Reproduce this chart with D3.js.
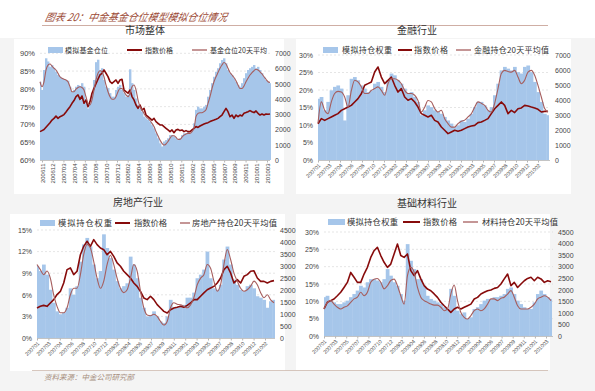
<!DOCTYPE html>
<html><head><meta charset="utf-8">
<script src="https://cdn.jsdelivr.net/npm/d3@7"></script>
<style>body{margin:0;background:#f4f4f4;}svg{display:block;}</style>
</head><body><svg id="c" width="595" height="391"></svg>
<script>
// ---------- DATA ----------
// Panel 1: 市场整体
const p1Bars = [82,79.7,85.3,88.6,87.7,86.2,86.7,85.8,84.8,83.9,83.4,83,82.7,82.5,82.3,80.6,79.2,79.7,80.6,81.1,80.8,81.6,80.6,76.9,74.5,75.9,78.8,82.5,87.5,88.2,85.3,85.8,82.5,80.6,80.2,78.8,77.8,77.8,79.7,80.6,81.1,79.7,78.8,77.8,78.3,85.5,81.6,79.7,77.3,75.5,74.5,73.6,72.2,71.7,71.3,70.8,69.8,68.9,67.5,66.1,64.7,63.8,65.2,65.6,66.1,67,67,66.6,66.1,65.6,66.1,67,67.5,67.5,68,67.5,68.4,70.3,74.1,75,74.5,74.5,75,75.5,77.8,79.7,81.6,83.4,84.8,85.8,87.2,88.1,88.6,87.2,85.3,84.4,83.9,83,82,81.1,80.6,81.6,83,84.4,85.3,85.8,86.2,86.7,85.8,86.2,85.3,84.4,83.4,82.5,82,81.6];
const p1Index = [1860,1930,2000,2150,2300,2450,2620,2730,2880,2730,2840,2900,2980,3150,3330,3500,3720,3900,4160,4270,3980,4200,3720,3940,3500,3830,4380,4700,5000,5300,5580,5690,5910,5690,5470,5140,5030,5140,5250,5030,5250,5300,4590,4480,4380,4590,4160,3940,3610,3390,3610,3280,3390,2950,2840,2730,2620,2730,2520,2410,2300,2300,2190,2080,1970,1860,1970,1790,1970,2010,1930,1970,1860,1930,1860,1860,1970,2080,2190,2140,2230,2300,2360,2410,2450,2520,2580,2620,2670,2730,2840,2950,3170,3390,3170,2840,2950,2730,2950,2840,2950,2890,3060,3110,3170,3240,3170,3110,3220,3060,2950,3020,2950,3020,3000,3020];
const p1MA = [82,80.6,82,85.3,86.7,87,86.4,85.8,85.3,84.4,83.4,83,82.7,82.5,82,80.6,79.2,79.2,79.9,80.4,80.6,80.4,79.7,77.8,75.9,75.5,76.9,79.7,82.5,84.4,85.1,84.8,83.4,81.1,79.2,77.8,77.1,77.1,77.8,79.2,80.1,80.1,79.2,78.3,77.8,78.8,80.6,81.1,79.7,76.9,75,74.1,73.1,72.2,71.7,71.1,70.3,69.4,68,66.8,65.6,64.7,64.2,64.5,65.2,66.1,66.8,66.8,66.4,65.8,65.8,66.4,67,67.3,67.5,67.5,68,68.9,72.2,73.1,73.3,73.3,73.6,74.1,75.9,77.8,80.1,82,83.4,84.6,85.8,86.7,87.4,87,85.8,84.6,83.9,83.2,82.3,81.1,80.1,80.1,80.8,82,83,83.9,84.6,85.1,85.5,85.3,84.8,84.2,83.4,82.7,82,81.8];
const p1Ticks = ['200611','200612','200703','200704','200706','200708','200710','200712','200802','200804','200806','200808','200810','200811','200902','200903','200905','200907','200909','200911','201001','201003'];
const p1LeftTicks = [60,65,70,75,80,85,90];
const p1RightTicks = [0,1000,2000,3000,4000,5000,6000,7000];
const p1Legend = ['模拟基金仓位','指数价格','基金仓位20天平均'];

// Panel 2: 金融行业
const p2Bars = [17.5,18,14.2,16.6,19.9,20.9,21.3,20.4,11.3,18.5,23.2,23.7,22.8,21.3,20.4,19.4,19.9,21.8,22.3,20.9,19.4,22.8,24.7,24.2,22.8,21.8,20.4,19,19.4,18,16.6,12.8,14.2,15.6,15.1,14.2,13.7,13.2,12.3,11.3,10.4,9.4,9.9,11.3,10.9,11.8,13.2,15.1,16.6,16.6,15.6,14.2,15.1,18.5,21.8,25.6,26.6,26.1,25.6,26.6,25.1,24.7,26.6,27,25.1,22.3,19.4,16.6,13.2,12.8];
const p2Index = [2420,2760,2640,2760,2870,2980,3090,3310,3420,3530,3640,3870,4090,4420,4980,5090,5200,5870,6200,5530,5090,5310,5530,4980,4530,4760,4200,3980,4090,3870,3530,3090,2980,2870,2980,2640,2530,2200,1980,1760,1870,1980,1910,1980,2090,2200,2270,2310,2490,2530,2640,2760,3090,3420,3640,3870,3640,3090,3310,3160,3420,3470,3640,3600,3530,3470,3380,3200,3240,3240];
const p2MA = [10.5,16.6,14.2,13.2,16.6,19,19.6,19.4,18,15.1,19.8,22.8,22.3,20.9,19,19,19.9,20.4,20.9,19.9,18.5,21.8,23.2,23.2,22.8,21.8,19.9,19,19,18.5,17,13.7,15.1,17,16.6,14.7,13.7,14.2,11.8,10.4,9.4,9.4,10.4,11.1,11.4,12.3,13.2,15.1,16.6,16.2,15.6,14.2,13.7,16.2,20.4,24.7,25.6,25.3,25.1,25.6,23.7,21.8,22.8,25.1,25.6,24.2,21.3,18,14.7,13.7];
const p2Ticks = ['200701','200703','200704','200706','200708','200710','200712','200802','200804','200806','200807','200809','200811','200901','200903','200905','200907','200908','200910','200912','201002'];
const p2LeftTicks = [0,5,10,15,20,25,30];
const p2RightTicks = [0,1000,2000,3000,4000,5000,6000,7000];
const p2Legend = ['模拟持仓权重','指数价格','金融持仓20天平均值'];

// Panel 3: 房地产行业
const p3Bars = [10,9.3,10.2,8.8,6.7,4.9,3.7,3.3,3.5,4.2,6.9,6,7.2,10.6,13,13.9,12.7,10.2,8.3,9.3,14.4,12.5,11.1,9.5,7.9,6.9,7.2,7.6,11.3,10.2,8.3,5.6,4.2,3,3.2,3.7,3,2.3,2.1,3,5.3,4.2,4.2,4.4,4.6,5.6,5.6,6.3,8.3,8.8,9.5,12,8.3,6.9,6.7,7.4,10.9,12.7,10.2,8.1,7.4,6.7,6.5,7.2,7.4,6.9,5.8,5.6,5.3,4.2,5.1,5.3];
const p3Index = [1250,1320,1360,1320,1460,1600,1810,1940,2290,2850,2920,2640,2780,3470,3820,4030,3820,4100,3890,3750,3680,3470,3610,3400,3130,2990,2780,2640,2500,2290,2150,1940,1670,1600,1740,1600,1390,1250,1110,1040,1180,1250,1280,1320,1280,1360,1460,1600,1600,1740,1880,2010,2080,2150,2290,2500,2850,2990,2710,2290,2430,2290,2570,2640,2780,2800,2500,2360,2360,2290,2360,2390];
const p3MA = [10.2,9.5,8.8,9.3,8.3,6,4.4,3.5,3.5,4.2,6,6.9,6.9,8.8,11.6,13,12.5,10.6,8.3,6.9,7.9,10.2,11.5,10.2,8.3,6.9,6.3,6.7,8.3,10.2,9.3,6.5,4.2,3.2,3.1,3.3,3,2.3,1.8,2.3,4.2,4.9,4.7,4.6,4.4,4.2,4.6,5.6,7.4,8.3,8.8,10.2,9.7,7.9,6.5,7.4,10.2,12.3,10.9,9,7.9,6.9,6.5,6.7,7.2,7.9,7.4,6.3,5.6,6,5.3,4.9];
const p3Ticks = ['200701','200703','200704','200706','200708','200710','200712','200802','200804','200806','200807','200809','200811','200901','200903','200905','200907','200908','200910','200912','201002'];
const p3LeftTicks = [0,3,6,9,12,15];
const p3RightTicks = [0,500,1000,1500,2000,2500,3000,3500,4000,4500];
const p3Legend = ['模拟持仓权重','指数价格','房地产持仓20天平均值'];

// Panel 4: 基础材料行业
const p4Bars = [11.2,11.6,10.2,9.7,9.2,9.2,9.7,10.2,11.2,12.1,13.1,14.5,14,15.5,16.4,16.4,16,15.5,16.4,19.3,17.4,15.5,14.5,12.1,10.2,26.5,21.7,19.3,16.4,16.4,14.5,11.6,10.7,10.2,9.7,9.2,8.3,7.8,13.6,11.6,7.3,6.3,6.8,4.9,5.4,7.8,8.3,9.2,10.2,10.7,10.7,11.2,11.2,11.6,12.1,13.6,14,12.1,10.2,9.2,8.3,7.8,7.8,9.7,12.1,13.1,12.1,11.2,10.7];
const p4Index = [1170,1460,1530,1600,1740,1890,2100,2320,2750,2540,2320,2320,2680,2970,3400,3690,3840,3480,3190,2970,3110,3550,3980,3480,3400,3550,2830,2610,2830,2470,2180,2030,1960,1820,1670,1460,1310,1170,1020,1170,1240,1170,1240,1310,1380,1600,1670,1820,1890,1960,1990,2060,2100,2250,2470,2680,2180,2320,2100,2250,2390,2490,2540,2390,2540,2470,2320,2390,2350];
const p4MA = [7.8,9.7,10.2,9.2,8.3,7.8,8.3,8.7,9.7,10.7,11.2,12.6,11.6,12.6,15.5,16.4,16.6,15.5,13.6,14.5,16,16.4,14.5,11.6,9.2,17.4,19.8,18.4,14,11.2,10.2,9.7,9.2,8.9,8.9,8.3,7.3,7.8,12.1,14.7,10.2,6.8,5.4,4.9,5.9,7.3,7.8,7.3,7.8,9.2,10.7,10.7,10.2,10.9,11.2,12.1,13.1,11.2,8.7,7.8,7.8,7.8,8.3,9.2,10.7,11.2,11.6,11.2,10.2];
const p4Ticks = ['200701','200703','200705','200707','200708','200710','200712','200802','200804','200806','200808','200810','200812','200902','200904','200906','200907','200909','200911','201001','201003'];
const p4LeftTicks = [0,5,10,15,20,25,30];
const p4RightTicks = [0,500,1000,1500,2000,2500,3000,3500,4000,4500];
const p4Legend = ['模拟持仓权重','指数价格','材料持仓20天平均值'];

const headerText = '图表 20：中金基金仓位模型模拟仓位情况';
const sourceText = '资料来源：中金公司研究部';

// ---------- LAYOUT / STYLE ----------
const BAR = '#a6c6ea', IDX = '#870b0b', MAC = '#a65e5e';
const CJK = "'Noto Sans CJK SC','Noto Sans',sans-serif";
const NUM = "'Liberation Sans',Arial,sans-serif";

const panels = [
  {title:'市场整体', tcx:145, tcy:30, bars:p1Bars, index:p1Index, ma:p1MA, ticks:p1Ticks,
   lt:p1LeftTicks, rt:p1RightTicks, ldom:[60,90], rdom:[0,7000], names:p1Legend,
   x0:40, x1:270, dx1:270, y0:53.3, y1:160, t0:42, t1:267, rot:-90, yfs:7.5, xfs:6,
   box:[14,39,270,155], ly:50, leg:[[48,63,65,43],[127,142,145,28],[192,207,210,57]], lfs:7},
  {title:'金融行业', tcx:417, tcy:30, bars:p2Bars, index:p2Index, ma:p2MA, ticks:p2Ticks,
   lt:p2LeftTicks, rt:p2RightTicks, ldom:[0,30], rdom:[0,7000], names:p2Legend,
   x0:318, x1:550, dx1:548, y0:55, y1:160, t0:318, t1:538, rot:-45, yfs:7, xfs:5.3,
   box:[296,39,275,155], ly:50, leg:[[323,338,342,50],[398,412,414,34],[456,471,474,75]], lfs:8},
  {title:'房地产行业', tcx:138, tcy:202, bars:p3Bars, index:p3Index, ma:p3MA, ticks:p3Ticks,
   lt:p3LeftTicks, rt:p3RightTicks, ldom:[0,15], rdom:[0,4500], names:p3Legend,
   x0:37, x1:275, dx1:274, y0:230, y1:338, t0:37, t1:265, rot:-45, yfs:7, xfs:5.3,
   box:[10,214,275,157], ly:223, leg:[[40,55,58,54],[115,130,134,33],[180,190,192,85]], lfs:8.3},
  {title:'基础材料行业', tcx:427, tcy:203, bars:p4Bars, index:p4Index, ma:p4MA, ticks:p4Ticks,
   lt:p4LeftTicks, rt:p4RightTicks, ldom:[0,30], rdom:[0,4500], names:p4Legend,
   x0:324, x1:553, dx1:551, y0:232, y1:336, t0:324, t1:546, rot:-45, yfs:7, xfs:5.3,
   box:[296,214,254,156], ly:222, leg:[[328,345,347,51],[403,420,423,34],[463,478,482,76]], lfs:8.3}
];

const svg = d3.select('#c');
svg.append('rect').attr('width',595).attr('height',391).attr('fill','#f4f4f4');
svg.append('rect').attr('width',595).attr('height',38).attr('fill','#ffffff');

// header
svg.append('text').attr('x',45).attr('y',21.5).text(headerText)
  .attr('font-family',CJK).attr('font-size',10.5).attr('font-style','italic')
  .attr('fill','#9c4a36').attr('textLength',182).attr('lengthAdjust','spacingAndGlyphs')
  .attr('transform','translate(4,0) skewX(-12) translate(0,0)');
svg.append('line').attr('x1',42).attr('x2',548).attr('y1',25.5).attr('y2',25.5)
  .attr('stroke','#cfaea4').attr('stroke-width',1);

const defs = svg.append('defs');

panels.forEach((p,pi)=>{
  svg.append('rect').attr('x',p.box[0]).attr('y',p.box[1]).attr('width',p.box[2]).attr('height',p.box[3]).attr('fill','#fff');
  svg.append('text').attr('x',p.tcx).attr('y',p.tcy+3.5).attr('text-anchor','middle')
    .attr('font-family',CJK).attr('font-size',10).attr('fill','#333').text(p.title);

  const n = p.bars.length;
  const x = d3.scaleLinear().domain([0,n-1]).range([p.x0,p.dx1]);
  const xi = d3.scaleLinear().domain([0,p.index.length-1]).range([p.x0,p.dx1]);
  const xm = d3.scaleLinear().domain([0,p.ma.length-1]).range([p.x0,p.dx1]);
  const yL = d3.scaleLinear().domain(p.ldom).range([p.y1,p.y0]);
  const yR = d3.scaleLinear().domain(p.rdom).range([p.y1,p.y0]);

  // gridlines
  svg.append('g').selectAll('line').data(p.lt.filter(t=>t!==p.ldom[0])).join('line')
    .attr('x1',p.x0).attr('x2',p.x1).attr('y1',d=>yL(d)).attr('y2',d=>yL(d))
    .attr('stroke','#d4d4d4').attr('stroke-width',0.6).attr('stroke-dasharray','2,2');

  const cid = 'clip'+pi;
  defs.append('clipPath').attr('id',cid).append('rect')
    .attr('x',p.x0).attr('y',p.y0-10).attr('width',p.dx1-p.x0+1).attr('height',p.y1-p.y0+10);

  const bw = (p.dx1-p.x0)/(n-1);
  svg.append('g').attr('clip-path',`url(#${cid})`).selectAll('rect').data(p.bars).join('rect')
    .attr('x',(d,i)=>x(i)-bw/2).attr('width',bw+0.4)
    .attr('y',d=>yL(d)).attr('height',d=>p.y1-yL(d)).attr('fill',BAR);

  // baseline + x axis
  svg.append('line').attr('x1',p.x0).attr('x2',p.x1).attr('y1',p.y1+0.5).attr('y2',p.y1+0.5)
    .attr('stroke','#b5b5b5').attr('stroke-width',0.8);
  const xt = d3.scalePoint().domain(p.ticks).range([p.t0,p.t1]);
  const gx = svg.append('g').attr('transform',`translate(0,${p.y1+0.5})`)
    .call(d3.axisBottom(xt).tickSize(2).tickSizeOuter(0));
  gx.select('.domain').remove();
  gx.selectAll('line').attr('stroke','#b5b5b5');
  gx.selectAll('text').attr('font-family',NUM).attr('font-size',p.xfs).attr('fill','#444')
    .attr('text-anchor','end').attr('y',0).attr('dy','0.35em')
    .attr('transform', p.rot===-90 ? 'translate(0,3) rotate(-90)' : 'translate(1,4) rotate(-45)');

  // y axes
  const gl = svg.append('g').attr('transform',`translate(${p.x0},0)`)
    .call(d3.axisLeft(yL).tickValues(p.lt).tickFormat(d=>d+'%').tickSize(0).tickPadding(5));
  gl.select('.domain').remove();
  gl.selectAll('text').attr('font-family',NUM).attr('font-size',p.yfs).attr('fill','#444');
  const gr = svg.append('g').attr('transform',`translate(${p.x1},0)`)
    .call(d3.axisRight(yR).tickValues(p.rt).tickFormat(d3.format('d')).tickSize(0).tickPadding(5));
  gr.select('.domain').remove();
  gr.selectAll('text').attr('font-family',NUM).attr('font-size',7).attr('fill','#444');

  // lines
  svg.append('path').datum(p.index)
    .attr('d',d3.line().x((d,i)=>xi(i)).y(d=>yR(d)))
    .attr('fill','none').attr('stroke',IDX).attr('stroke-width',1.6).attr('stroke-linejoin','round');
  svg.append('path').datum(p.ma)
    .attr('d',d3.line().curve(d3.curveMonotoneX).x((d,i)=>xm(i)).y(d=>yL(d)))
    .attr('fill','none').attr('stroke',MAC).attr('stroke-width',1.1);

  // legend
  const lg = svg.append('g');
  const L = p.leg;
  lg.append('rect').attr('x',L[0][0]).attr('y',p.ly-3).attr('width',L[0][1]-L[0][0]).attr('height',6).attr('fill',BAR);
  lg.append('line').attr('x1',L[1][0]).attr('x2',L[1][1]).attr('y1',p.ly).attr('y2',p.ly).attr('stroke',IDX).attr('stroke-width',2);
  lg.append('line').attr('x1',L[2][0]).attr('x2',L[2][1]).attr('y1',p.ly).attr('y2',p.ly).attr('stroke',MAC).attr('stroke-width',1.3);
  p.names.forEach((nm,k)=>{
    lg.append('text').attr('x',L[k][2]).attr('y',p.ly).attr('dy','0.36em').text(nm)
      .attr('font-family',CJK).attr('font-size',p.lfs).attr('fill','#333')
      .attr('textLength',L[k][3]).attr('lengthAdjust','spacing');
  });
});

// source
svg.append('line').attr('x1',32).attr('x2',548).attr('y1',370.5).attr('y2',370.5)
  .attr('stroke','#cdb9ad').attr('stroke-width',0.8);
svg.append('text').attr('x',44).attr('y',380).text(sourceText)
  .attr('font-family',CJK).attr('font-size',7.5).attr('font-style','italic')
  .attr('fill','#a89080').attr('textLength',90).attr('lengthAdjust','spacing');
</script></body></html>
